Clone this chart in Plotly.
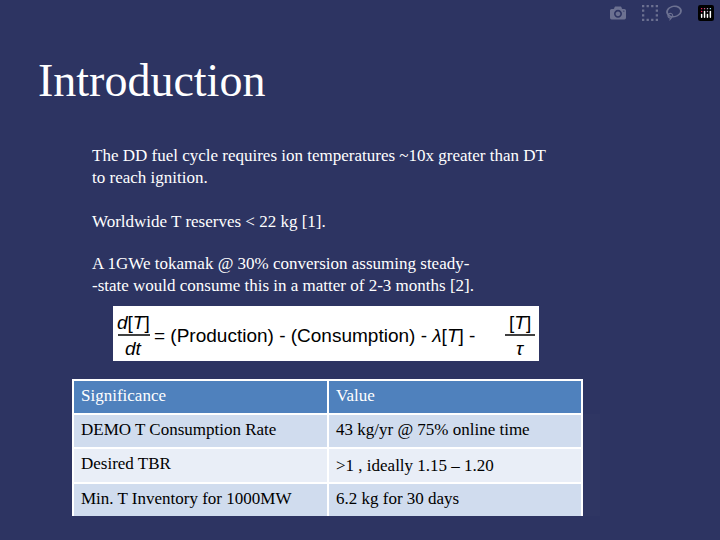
import plotly.graph_objects as go

title = "Introduction"
bullets = [
    "The DD fuel cycle requires ion temperatures ~10x greater than DT<br>to reach ignition.",
    "Worldwide T reserves < 22 kg [1].",
    "A 1GWe tokamak @ 30% conversion assuming steady-<br>-state would consume this in a matter of 2-3 months [2].",
]
bullet_y = [166, 221, 274]
col_header = ["Significance", "Value"]
col1 = ["DEMO T Consumption Rate", "Desired TBR", "Min. T Inventory for 1000MW"]
col2 = ["43 kg/yr @ 75% online time", ">1 , ideally 1.15 – 1.20", "6.2 kg for 30 days"]

serif = "Liberation Serif"
fig = go.Figure()
fig.add_trace(go.Scatter(x=[0, 720], y=[0, 540], mode="markers", marker=dict(opacity=0), hoverinfo="skip"))
fig.add_trace(go.Table(
    domain=dict(x=[73/720, 582/720], y=[24/540, 160/540]),
    columnwidth=[255, 254],
    header=dict(values=col_header, fill_color="#4f81bd", line_color="white", line_width=2,
                align="left", height=34, font=dict(family=serif, size=17, color="white")),
    cells=dict(values=[col1, col2], fill_color=[["#d0dcee", "#e9eef7", "#d0dcee"]]*2,
               line_color="white", line_width=2, align="left", height=34,
               font=dict(family=serif, size=17, color="black")),
))

anns = [dict(x=36, y=80, text=title, showarrow=False, xanchor="left", yanchor="middle",
             font=dict(family=serif, size=46, color="white"))]
for t, y in zip(bullets, bullet_y):
    anns.append(dict(x=90, y=y, text=t, showarrow=False, xanchor="left", yanchor="middle",
                     align="left", font=dict(family=serif, size=17, color="white")))
eq = dict(family="Liberation Sans", size=19, color="black")
anns += [
    dict(x=133, y=322, text="<i>d</i>[<i>T</i>]", showarrow=False, font=eq),
    dict(x=133, y=348, text="<i>dt</i>", showarrow=False, font=eq),
    dict(x=152, y=335, text="= (Production) - (Consumption) - <i>λ</i>[<i>T</i>] -", showarrow=False,
         xanchor="left", font=eq),
    dict(x=520, y=322, text="[<i>T</i>]", showarrow=False, font=eq),
    dict(x=520, y=348, text="<i>τ</i>", showarrow=False, font=eq),
]
shapes = [
    dict(type="rect", x0=113, x1=539, y0=306, y1=361, fillcolor="white", line_width=0, layer="below"),
    dict(type="line", x0=118, x1=150, y0=335, y1=335, line=dict(color="black", width=1.5)),
    dict(type="line", x0=505, x1=535, y0=335, y1=335, line=dict(color="black", width=1.5)),
]
fig.update_layout(width=720, height=540, margin=dict(l=0, r=0, t=0, b=0),
                  paper_bgcolor="#2d3462", plot_bgcolor="rgba(0,0,0,0)",
                  xaxis=dict(range=[0, 720], visible=False, fixedrange=True),
                  yaxis=dict(range=[540, 0], visible=False, fixedrange=True),
                  annotations=anns, shapes=shapes, showlegend=False)
fig.write_html("out.html", post_script="document.body.style.margin='0';")
